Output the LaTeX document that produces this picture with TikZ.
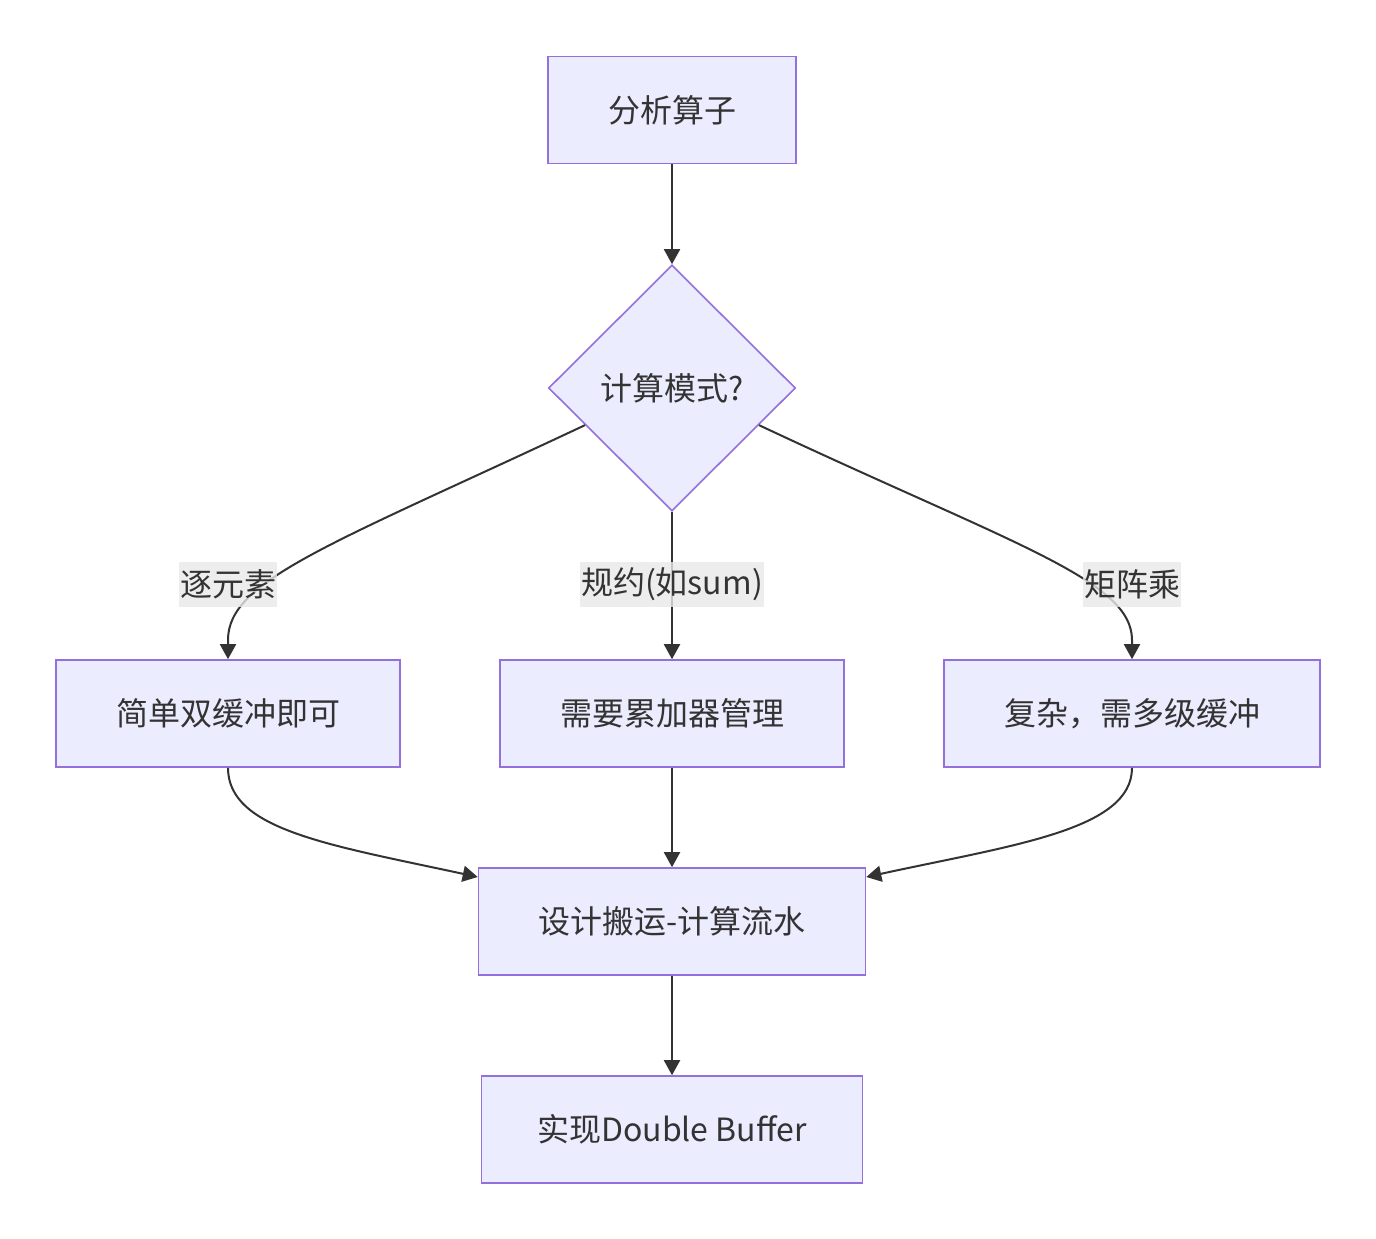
\documentclass[tikz,border=0pt]{standalone}
\usepackage{fontspec}
\setmainfont{Noto Sans CJK SC}
\usetikzlibrary{shapes.geometric,arrows.meta,calc}
\definecolor{nodefill}{HTML}{ECECFF}
\definecolor{nodeline}{HTML}{9370DB}
\definecolor{edgecol}{HTML}{333333}
\definecolor{lblbg}{HTML}{E8E8E8}
\begin{document}
\begin{tikzpicture}[x=1pt,y=-1pt,
  every node/.style={font=\fontsize{32}{38}\selectfont, text=edgecol},
  boxnode/.style={draw=nodeline, fill=nodefill, line width=1.6pt, minimum height=107pt, inner sep=0pt},
  dianode/.style={diamond, draw=nodeline, fill=nodefill, line width=1.6pt, minimum width=247pt, minimum height=246pt, inner sep=0pt},
  lbl/.style={fill=lblbg, fill opacity=0.8, text opacity=1, minimum height=45pt, inner xsep=1pt, inner ysep=0pt},
  edge/.style={draw=edgecol, line width=2pt, -{Triangle[length=15pt,width=16pt]}}
]
\useasboundingbox (0,0) rectangle (1376,1239);
\node[boxnode, minimum width=248pt] (A) at (672,110) {分析算子};
\node[dianode] (D) at (672,388) {计算模式?};
\node[boxnode, minimum width=344pt] (L) at (228,713.5) {简单双缓冲即可};
\node[boxnode, minimum width=344pt] (M) at (672,713.5) {需要累加器管理};
\node[boxnode, minimum width=376pt] (R) at (1132,713.5) {复杂，需多级缓冲};
\node[boxnode, minimum width=387pt] (P) at (672,921.5) {设计搬运-计算流水};
\node[boxnode, minimum width=381pt] (Q) at (672,1129.5) {实现Double Buffer};

\coordinate (dl) at ($(D.west)!0.3!(D.south)$);
\coordinate (dr) at ($(D.east)!0.3!(D.south)$);

\draw[edge] (A.south) -- (D.north);
\draw[edge] (dl) .. controls (330,545) and (228,580) .. (228,640) -- (L.north);
\draw[edge] (D.south) -- (M.north);
\draw[edge] (dr) .. controls (1014,545) and (1132,580) .. (1132,640) -- (R.north);

\node[lbl] (l1) at (228,584.5) {逐元素};
\node[lbl] (l2) at (672,584.5) {规约(如sum)};
\node[lbl] (l3) at (1132,584.5) {矩阵乘};

\draw[edge] (L.south) .. controls (228,830) and (330,845) .. (P.west |- 0,877);
\draw[edge] (M.south) -- (P.north);
\draw[edge] (R.south) .. controls (1132,830) and (1013,845) .. (P.east |- 0,877);
\draw[edge] (P.south) -- (Q.north);
\end{tikzpicture}
\end{document}
